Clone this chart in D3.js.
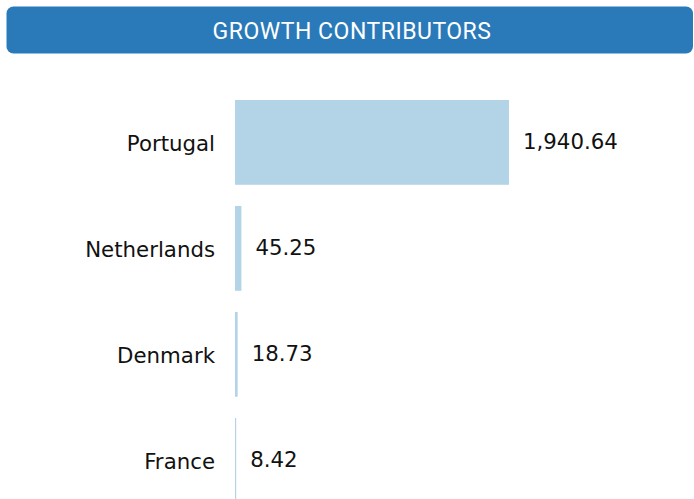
<!DOCTYPE html>
<html>
<head>
<meta charset="utf-8">
<script src="https://cdn.jsdelivr.net/npm/d3@7"></script>
<style>
  html, body { margin: 0; padding: 0; background: #ffffff; }
  svg { display: block; }
</style>
</head>
<body>
<svg id="chart" width="694" height="499"></svg>
<script>
// Growth contributors by country
const titleText = "GROWTH CONTRIBUTORS";
const countries = ["Portugal", "Netherlands", "Denmark", "France"];
const contributions = [1940.64, 45.25, 18.73, 8.42];

const width = 694, height = 499;
const svg = d3.select("#chart");

// Header banner
svg.append("rect")
  .attr("x", 6.5).attr("y", 6.5)
  .attr("width", 686.5).attr("height", 47)
  .attr("rx", 7).attr("ry", 7)
  .attr("fill", "#2a7aba");

svg.append("text")
  .attr("x", 352).attr("y", 31)
  .attr("text-anchor", "middle")
  .attr("dominant-baseline", "central")
  .attr("font-family", "Roboto, sans-serif")
  .attr("font-size", 23)
  .attr("letter-spacing", 0.5)
  .attr("fill", "#ffffff")
  .text(titleText);

const data = countries.map((c, i) => ({ country: c, value: contributions[i] }));

const y = d3.scaleBand()
  .domain(countries)
  .range([78.8, 524])
  .paddingInner(0.2)
  .paddingOuter(0.2);

const x = d3.scaleLinear()
  .domain([0, d3.max(contributions)])
  .range([235, 509]);

const fmt = d3.format(",.2f");

const rows = svg.append("g").selectAll("g")
  .data(data)
  .join("g");

rows.append("rect")
  .attr("x", x(0))
  .attr("y", d => y(d.country))
  .attr("width", d => x(d.value) - x(0))
  .attr("height", y.bandwidth())
  .attr("fill", "#b3d4e6");

rows.append("text")
  .attr("x", 215)
  .attr("y", d => y(d.country) + y.bandwidth() / 2 + 1)
  .attr("text-anchor", "end")
  .attr("dominant-baseline", "central")
  .attr("font-family", "DejaVu Sans, sans-serif")
  .attr("font-size", 21.3)
  .attr("fill", "#111111")
  .text(d => d.country);

rows.append("text")
  .attr("x", d => x(d.value) + 14)
  .attr("y", d => y(d.country) + y.bandwidth() / 2 - 1)
  .attr("dominant-baseline", "central")
  .attr("font-family", "DejaVu Sans, sans-serif")
  .attr("font-size", 21.3)
  .attr("fill", "#111111")
  .text(d => fmt(d.value));
</script>
</body>
</html>
